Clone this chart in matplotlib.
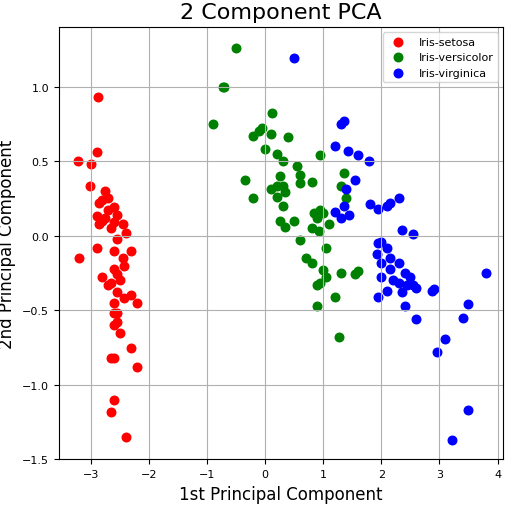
import numpy as np
import matplotlib
matplotlib.use("Agg")
import matplotlib.pyplot as plt

targets = ["Iris-setosa", "Iris-versicolor", "Iris-virginica"]
colors = ["r", "g", "b"]

setosa = [(-3.22,0.50),(-3.0,0.48),(-3.02,0.33),(-2.88,0.93),(-2.9,0.56),(-3.2,-0.15),(-2.75,0.30),
          (-2.8,0.24),(-2.85,0.22),(-2.7,0.25),(-2.9,0.13),(-2.8,0.10),(-2.6,0.19),(-2.7,0.17),
          (-2.55,0.14),(-2.75,0.12),(-2.6,0.09),(-2.45,0.08),(-2.4,0.02),(-2.85,0.08),(-2.65,0.05),
          (-2.55,-0.02),(-2.9,-0.08),(-2.6,-0.10),(-2.3,-0.10),(-2.45,-0.15),(-2.8,-0.28),(-2.7,-0.33),
          (-2.65,-0.32),(-2.55,-0.26),(-2.6,-0.22),(-2.42,-0.20),(-2.5,-0.30),(-2.55,-0.38),(-2.6,-0.45),
          (-2.42,-0.42),(-2.3,-0.40),(-2.2,-0.45),(-2.6,-0.52),(-2.55,-0.52),(-2.6,-0.60),(-2.55,-0.58),
          (-2.5,-0.65),(-2.3,-0.75),(-2.65,-0.82),(-2.6,-0.82),(-2.2,-0.88),(-2.6,-1.10),(-2.65,-1.18),
          (-2.4,-1.35)]
versicolor = [(-0.5,1.26),(-0.72,1.0),(-0.7,1.0),(-0.9,0.75),(-0.1,0.70),(-0.05,0.72),(0.1,0.68),
              (0.12,0.82),(-0.2,0.67),(0.0,0.58),(0.2,0.55),(0.4,0.66),(0.55,0.47),(0.3,0.50),(0.6,0.41),
              (0.8,0.36),(0.95,0.54),(0.6,0.35),(-0.35,0.37),(-0.2,0.25),(0.1,0.31),(0.2,0.33),(0.25,0.40),
              (0.3,0.33),(0.35,0.29),(0.2,0.26),(0.3,0.20),(0.5,0.10),(0.35,0.06),(0.85,0.15),(0.95,0.17),
              (0.9,0.12),(1.0,0.15),(0.92,0.03),(1.1,0.08),(1.3,0.33),(1.35,0.42),(1.4,0.25),(0.8,0.05),
              (1.05,-0.08),(0.6,-0.03),(0.7,-0.15),(0.8,-0.18),(1.0,-0.23),(1.05,-0.28),(1.3,-0.25),
              (1.55,-0.26),(1.6,-0.24),(0.9,-0.33),(0.95,-0.32),(1.2,-0.41),(0.9,-0.47),(1.28,-0.68),
              (0.25,0.10)]
virginica = [(0.5,1.19),(1.3,0.75),(1.35,0.77),(1.2,0.60),(1.42,0.57),(1.6,0.54),(1.55,0.37),(1.78,0.50),
             (1.4,0.31),(1.35,0.20),(1.2,0.16),(1.3,0.12),(1.45,0.14),(1.8,0.21),(1.95,0.18),(2.1,0.20),
             (2.15,0.22),(2.3,0.25),(2.35,0.04),(2.55,0.01),(2.0,-0.04),(1.95,-0.05),(2.1,-0.08),(1.92,-0.12),
             (2.15,-0.15),(2.0,-0.18),(2.3,-0.18),(2.5,-0.28),(2.15,-0.22),(2.3,-0.32),(2.45,-0.33),
             (2.55,-0.33),(2.6,-0.35),(2.0,-0.28),(1.95,-0.41),(2.1,-0.37),(2.35,-0.38),(2.4,-0.47),
             (2.6,-0.56),(2.87,-0.37),(2.9,-0.36),(3.8,-0.25),(3.4,-0.55),(3.5,-0.46),(2.95,-0.78),
             (3.1,-0.69),(3.5,-1.17),(3.22,-1.37),(2.2,-0.3),(2.4,-0.25)]

fig = plt.figure(figsize=(5.11, 5.06), dpi=100)
ax = fig.add_subplot(1, 1, 1)
for pts, color, name in zip([setosa, versicolor, virginica], colors, targets):
    pts = np.array(pts)
    ax.scatter(pts[:, 0], pts[:, 1], c=color, s=38, label=name)

ax.set_xlabel("1st Principal Component", fontsize=12)
ax.set_ylabel("2nd Principal Component", fontsize=12)
ax.set_title("2 Component PCA", fontsize=16)
ax.set_xlim(-3.55, 4.1)
ax.set_ylim(-1.5, 1.4)
ax.tick_params(labelsize=8)
ax.legend(fontsize=8)
ax.grid()
fig.subplots_adjust(left=0.115, right=0.985, top=0.945, bottom=0.09)
fig.savefig("out.png")
